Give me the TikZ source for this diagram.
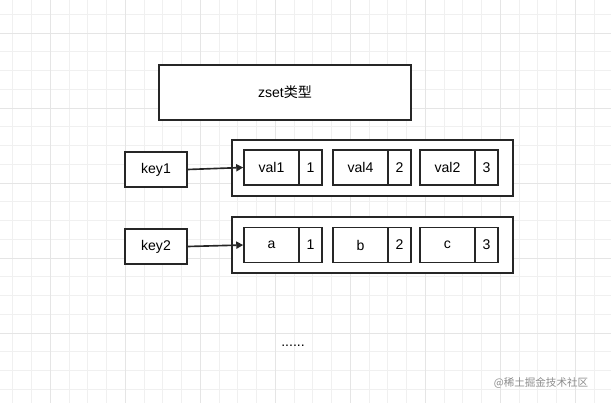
\documentclass[tikz,border=0pt]{standalone}
\usepackage{fontspec}
\setmainfont{Liberation Sans}
\newfontfamily\cjk{Noto Sans CJK SC}
\usetikzlibrary{arrows.meta}
\tikzset{
  box/.style={draw=black!85,line width=1.4pt,inner sep=0pt,font=\large},
  cell/.style={draw=black!85,line width=1.2pt,inner sep=0pt,font=\large},
  link/.style={draw=black!85,line width=1.4pt,-{Triangle[length=6pt,width=6pt]}}
}
\begin{document}
\begin{tikzpicture}[x=0.03cm,y=-0.03cm]
\useasboundingbox (0,0) rectangle (611,403);
%background grid
\foreach \g in {0,18.75,...,611} \draw[black!6,line width=0.4pt] (\g+12.5,0) -- (\g+12.5,403);
\foreach \g in {0,18.75,...,403} \draw[black!6,line width=0.4pt] (0,\g+14) -- (611,\g+14);
\foreach \g in {0,75,...,611} \draw[black!10,line width=0.6pt] (\g+50,0) -- (\g+50,403);
\foreach \g in {0,75,...,403} \draw[black!10,line width=0.6pt] (0,\g+33) -- (611,\g+33);

%title
\node[box,fill=white,minimum width=252*0.03cm,minimum height=55*0.03cm] (title) at (285,92.5) {zset{\cjk 类型}};

%row 1
\node[box,fill=white,minimum width=62*0.03cm,minimum height=35*0.03cm] (key1) at (156,169.5) {key1};
\node[box,fill=white,minimum width=281*0.03cm,minimum height=56*0.03cm] (set1) at (372.5,168) {};
%row 2
\node[box,fill=white,minimum width=62*0.03cm,minimum height=35*0.03cm] (key2) at (156,246.5) {key2};
\node[box,fill=white,minimum width=281*0.03cm,minimum height=56*0.03cm] (set2) at (372.5,245) {};

\foreach \y/\n/\a/\b/\c in {167.5/1/val1/val4/val2, 245/2/a/b/c} {
  \foreach \x/\m/\t/\s in {244/1/\a/1, 333/2/\b/2, 420/3/\c/3} {
    \node[cell,minimum width=55*0.03cm,minimum height=35*0.03cm] (m\n\m) at (\x+27.5,\y) {\t};
    \node[cell,minimum width=23*0.03cm,minimum height=35*0.03cm] (s\n\m) at (\x+66.5,\y) {\s};
  }
}
\draw[link] (key1.east) -- (m11.west);
\draw[link] (key2.east) -- (m21.west);

\node[font=\large] (dots) at (293,346) {......};
\node[text=black!45,font=\cjk\small] (mark) at (541,383) {@稀土掘金技术社区};
\end{tikzpicture}
\end{document}
